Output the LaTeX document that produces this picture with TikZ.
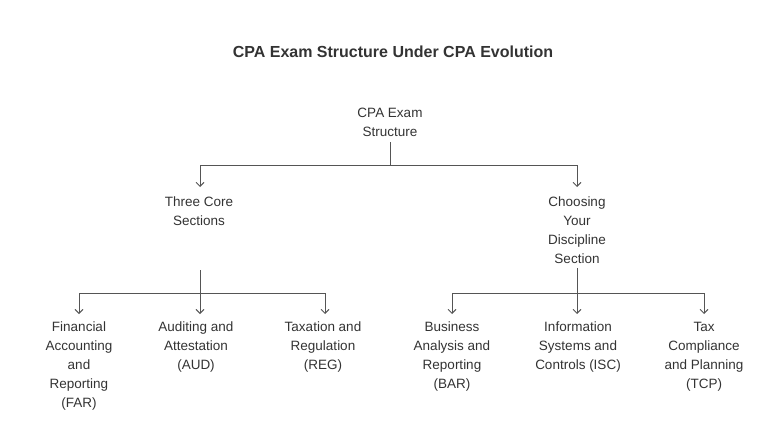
\documentclass[tikz,border=0pt]{standalone}
\usepackage{fontspec}
\setmainfont{Liberation Sans}
\usetikzlibrary{arrows.meta}
\definecolor{ln}{HTML}{555555}
\definecolor{tx}{HTML}{333333}
\begin{document}
\begin{tikzpicture}[x=1pt,y=-1pt,
  lbl/.style={align=center,text=tx,font=\fontsize{13.5}{19}\selectfont,inner sep=0pt},
  con/.style={draw=ln,line width=0.9pt},
  arr/.style={con,-{Straight Barb[length=4pt,width=8pt]}}]
\useasboundingbox (0,0) rectangle (768,423);
\node[font=\bfseries\fontsize{16}{19}\selectfont,text=tx] (title) at (393,52) {CPA Exam Structure Under CPA Evolution};
\node[lbl] (root) at (390,122) {CPA Exam\\Structure};
\node[lbl] (core) at (199,211) {Three Core\\Sections};
\node[lbl] (disc) at (577,230) {Choosing\\Your\\Discipline\\Section};
\node[lbl] (far) at (79,366) {Financial\\Accounting\\and\\Reporting\\(FAR)};
\node[lbl] (aud) at (196,347) {Auditing and\\Attestation\\(AUD)};
\node[lbl] (reg) at (323,347) {Taxation and\\Regulation\\(REG)};
\node[lbl] (bar) at (452,357) {Business\\Analysis and\\Reporting\\(BAR)};
\node[lbl] (isc) at (578,347) {Information\\Systems and\\Controls (ISC)};
\node[lbl] (tcp) at (704,357) {Tax\\Compliance\\and Planning\\(TCP)};
\coordinate (r1) at (390,142); \coordinate (r2) at (390,165);
\coordinate (c1) at (200,270); \coordinate (c2) at (200,293);
\coordinate (d1) at (577,268); \coordinate (d2) at (577,293);
\draw[con] (r1) -- (r2);
\draw[con] (200,165) -- (577,165);
\draw[arr] (200,165) -- (200,187);
\draw[arr] (577,165) -- (577,187);
\draw[con] (c1) -- (c2);
\draw[con] (79,293) -- (325,293);
\draw[arr] (79,293) -- (79,314);
\draw[arr] (200,293) -- (200,314);
\draw[arr] (325,293) -- (325,314);
\draw[con] (d1) -- (d2);
\draw[con] (452,293) -- (704,293);
\draw[arr] (452,293) -- (452,314);
\draw[arr] (577,293) -- (577,314);
\draw[arr] (704,293) -- (704,314);
\end{tikzpicture}
\end{document}
